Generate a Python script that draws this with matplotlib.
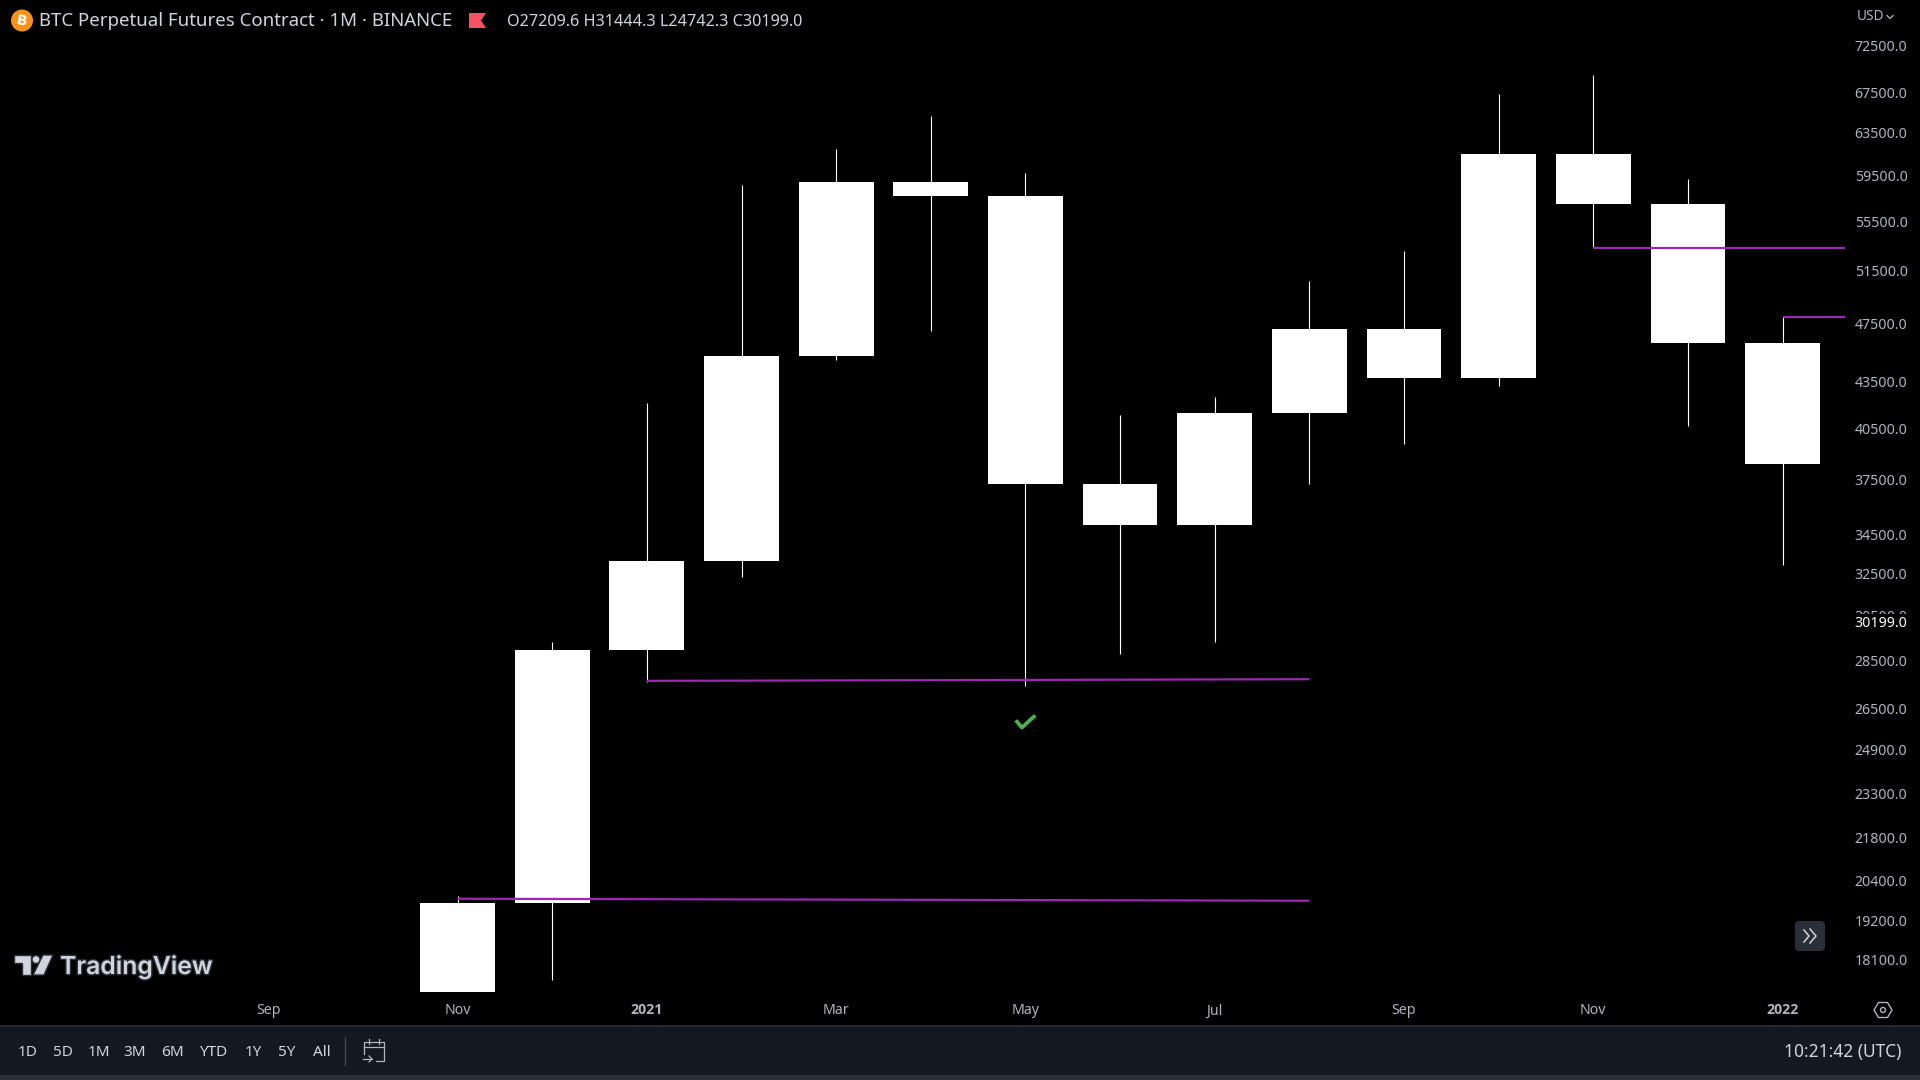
#!/usr/bin/env python3

import matplotlib
matplotlib.use('Agg')
import matplotlib.pyplot as plt
import matplotlib.patheffects as pe
from matplotlib.patches import Circle, Polygon, Rectangle, FancyBboxPatch
from matplotlib.path import Path

# months counted from Jan 2021 = 0
months = list(range(-2, 13))
opens = [17230, 19730, 28950, 33140, 45230, 58880, 57680, 37270, 34990,
         41510, 47110, 43730, 61450, 56940, 46160]
highs = [19930, 29330, 42140, 58650, 61900, 65100, 59770, 41360, 42530,
         50660, 53070, 67300, 69300, 59200, 47970]
lows = [17230, 17540, 27600, 32360, 44950, 47020, 27400, 28800, 29300,
        37270, 39590, 43250, 53270, 40700, 32950]
closes = [19730, 28950, 33140, 45230, 58880, 57680, 37270, 34990, 41510,
          47110, 43730, 61450, 56940, 46160, 38400]

price_ticks = [72500, 67500, 63500, 59500, 55500, 51500, 47500, 43500, 40500,
               37500, 34500, 32500, 30500, 28500, 26500, 24900, 23300, 21800,
               20400, 19200, 18100]
time_ticks = [-4, -2, 0, 2, 4, 6, 8, 10, 12]
time_labels = ['Sep', 'Nov', '2021', 'Mar', 'May', 'Jul', 'Sep', 'Nov', '2022']

x_left = -6.835
x_right = 12.66

# drawn levels
level_a_x = [-2, 7]
level_a_y = [19850, 19790]
level_b_x = [0, 7]
level_b_y = [27630, 27700]
level_c_x = [10, x_right]
level_c_y = [53300, 53300]
level_d_x = [12, x_right]
level_d_y = [47970, 47970]
check_x = 4
check_y = 26000
last_price = 30199

range_buttons = ['1D', '5D', '1M', '3M', '6M', 'YTD', '1Y', '5Y', 'All']
range_button_x = [28, 63, 99, 135, 172, 213, 253, 287, 322]

PURPLE = '#9c27b0'
TEXT = '#d1d4dc'
AXIS_TEXT = '#b2b5be'
plt.rcParams['font.family'] = ['Noto Sans', 'DejaVu Sans']

W, H = 1920, 1080
fig = plt.figure(figsize=(W / 100, H / 100), dpi=100, facecolor='black')
ax = fig.add_axes([0, (H - 992) / H, 1845 / W, 992 / H], facecolor='black')
ax.set_yscale('log')
ax.set_xlim(x_left, x_right)
ax.set_ylim(17230, 77660)

# candles
bottoms = [min(o, c) for o, c in zip(opens, closes)]
heights = [abs(o - c) for o, c in zip(opens, closes)]
ax.vlines(months, lows, highs, colors='white', linewidth=0.8, zorder=2)
ax.bar(months, heights, bottom=bottoms, width=0.79, color='white', zorder=3)

for lx, ly in [(level_a_x, level_a_y), (level_b_x, level_b_y),
               (level_c_x, level_c_y), (level_d_x, level_d_y)]:
    ax.plot(lx, ly, color=PURPLE, linewidth=1.6, zorder=4,
            solid_capstyle='butt')

tick_mark = Path([(-1, 0.125), (-0.375, -0.625), (1, 0.625)])
ax.plot([check_x], [check_y], marker=tick_mark, markersize=14, color='#4caf50',
        markerfacecolor='none', markeredgewidth=2.7, linestyle='none', zorder=5)

for side in ax.spines.values():
    side.set_visible(False)
ax.yaxis.tick_right()
ax.set_yticks(price_ticks, [f'{p:.1f}' for p in price_ticks])
ax.minorticks_off()
ax.set_xticks(time_ticks, time_labels)
ax.tick_params(axis='y', length=0, pad=7, labelsize=10.2, labelcolor=AXIS_TEXT)
ax.tick_params(axis='x', length=0, pad=8.2, labelsize=10.2, labelcolor=AXIS_TEXT)
for lab in ax.get_xticklabels():
    if lab.get_text() in ('2021', '2022'):
        lab.set_family('Open Sans')
        lab.set_fontweight('bold')

ax.annotate(f'{last_price:.1f}', xy=(1, last_price), xycoords=('axes fraction', 'data'),
            xytext=(7, -0.7), textcoords='offset points', ha='left', va='center',
            color='white', fontsize=10.2, fontweight='medium', zorder=6,
            annotation_clip=False,
            bbox=dict(facecolor='black', edgecolor='none', pad=1.2))

# screen chrome, in pixel coordinates
ui = fig.add_axes([0, 0, 1, 1], facecolor='none')
ui.set_xlim(0, W)
ui.set_ylim(H, 0)
ui.axis('off')

ui.add_patch(Rectangle((0, 1026), W, 49, facecolor='#141823', edgecolor='none'))
ui.add_patch(Rectangle((0, 1075), W, 5, facecolor='#2a2e39', edgecolor='none'))
ui.plot([0, W], [1026, 1026], color='#2a2e39', linewidth=1.2)

# header
ui.add_patch(Circle((22, 20.5), 11, facecolor='#f7931a', edgecolor='none'))
ui.text(22, 20.5, 'B', color='white', fontsize=10, fontweight='bold', rotation=-10,
        ha='center', va='center', family='DejaVu Sans')
ui.text(39, 21.5, 'BTC Perpetual Futures Contract \u00b7 1M \u00b7 BINANCE', color=TEXT,
        fontsize=13.45, ha='left', va='center')
ui.add_patch(Polygon([(469, 13), (486, 13), (481, 20.5), (486, 28), (469, 28)],
                     facecolor='#f7525f', edgecolor='none'))
ui.text(507, 22, 'O27209.6 H31444.3 L24742.3 C30199.0', color=TEXT, fontsize=11.65,
        ha='left', va='center')

# currency switch and settings
ui.text(1857, 17, 'USD', color=AXIS_TEXT, fontsize=9.8, ha='left', va='center')
ui.plot([1887, 1890, 1893], [15.5, 18.5, 15.5], color=AXIS_TEXT, linewidth=0.9)
ui.add_patch(Polygon([(1874, 1010), (1878.5, 1002.5), (1887.5, 1002.5), (1892, 1010),
                      (1887.5, 1017.5), (1878.5, 1017.5)], fill=False,
                     edgecolor=AXIS_TEXT, linewidth=1))
ui.add_patch(Circle((1883, 1010), 2.5, fill=False, edgecolor=AXIS_TEXT, linewidth=1))

# scroll button
ui.add_patch(FancyBboxPatch((1798, 924), 24, 24, boxstyle='round,pad=3,rounding_size=4',
                            facecolor='#2a2e39', edgecolor='none'))
ui.plot([1804, 1809, 1804], [930, 936, 942], color=TEXT, linewidth=1.1)
ui.plot([1810, 1816, 1810], [929, 936, 943], color=TEXT, linewidth=1.1)

# watermark
halo = dict(facecolor=TEXT, edgecolor='#2a2e39', linewidth=1)
ui.add_patch(Polygon([(14, 955), (31, 955), (31, 975), (22, 975), (22, 963), (14, 963)], **halo))
ui.add_patch(Circle((36, 959.5), 4, **halo))
ui.add_patch(Polygon([(43, 955), (53, 955), (44, 975), (33, 975)], **halo))
ui.text(60, 966.5, 'TradingView', color=TEXT, fontsize=17.8, fontweight='semibold',
        family='Inter', ha='left', va='center',
        path_effects=[pe.withStroke(linewidth=2, foreground='#2a2e39')])

# bottom toolbar
for name, bx in zip(range_buttons, range_button_x):
    ui.text(bx, 1052, name, color=TEXT, fontsize=11, ha='center', va='center')
ui.plot([345, 345], [1037, 1065], color='#434651', linewidth=1)
ui.plot([364, 364, 384, 384, 376], [1054, 1042, 1042, 1061, 1061], color=AXIS_TEXT, linewidth=0.9)
ui.plot([364, 384], [1047, 1047], color=AXIS_TEXT, linewidth=0.9)
ui.plot([369, 369], [1039, 1044], color=AXIS_TEXT, linewidth=0.9)
ui.plot([379, 379], [1039, 1044], color=AXIS_TEXT, linewidth=0.9)
ui.plot([363, 372], [1059, 1059], color=AXIS_TEXT, linewidth=0.9)
ui.plot([369, 372, 369], [1056, 1059, 1062], color=AXIS_TEXT, linewidth=0.9)
ui.text(1901, 1052, '10:21:42 (UTC)', color=TEXT, fontsize=12.5, ha='right', va='center')

fig.savefig('out.png', dpi=100, facecolor='black')
